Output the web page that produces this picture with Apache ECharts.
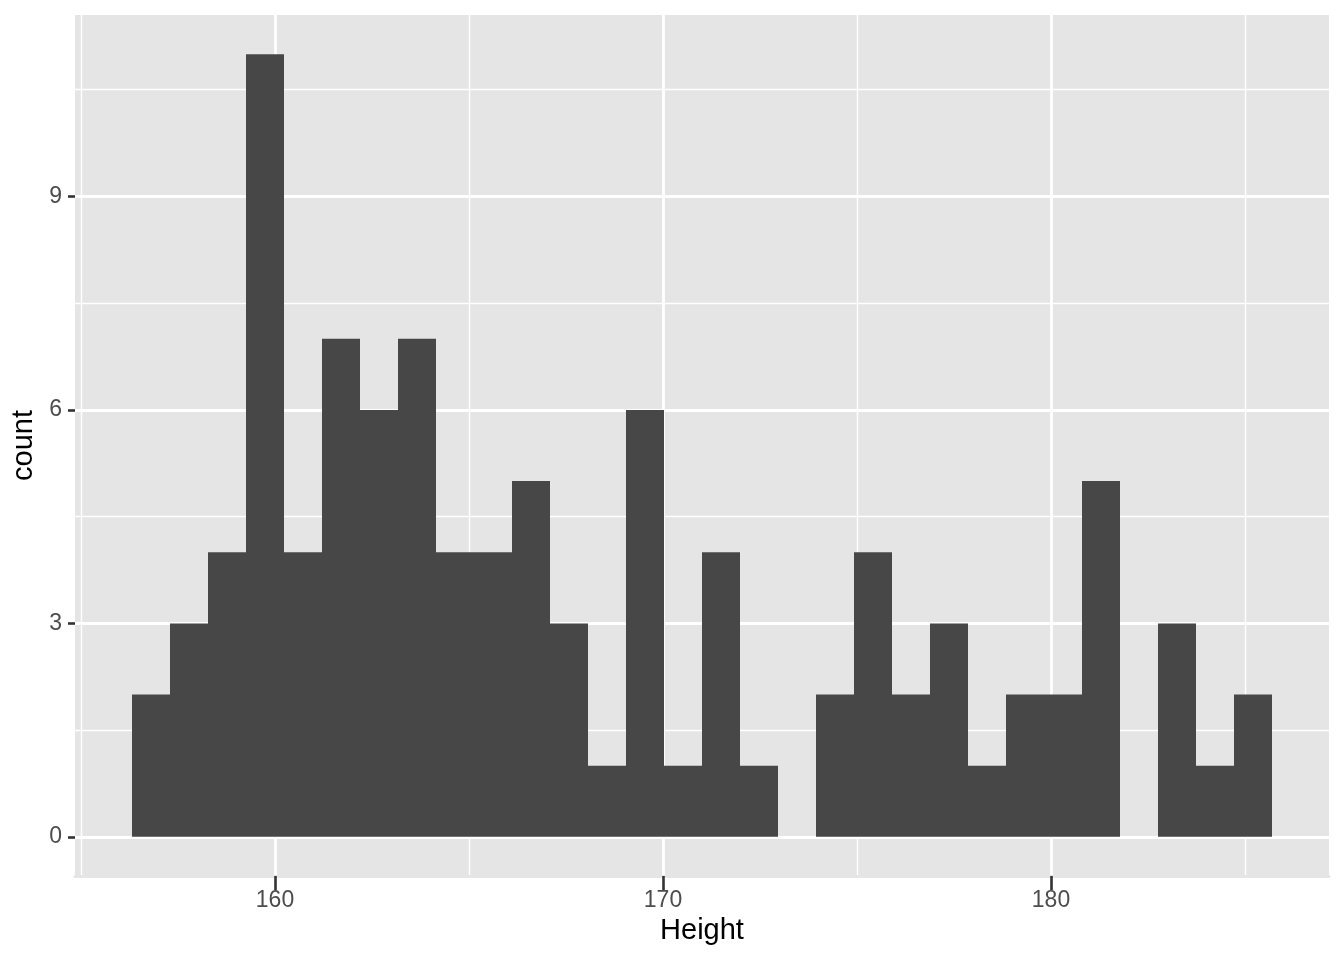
<!DOCTYPE html>
<html>
<head>
<meta charset="utf-8">
<script src="https://cdn.jsdelivr.net/npm/echarts@6/dist/echarts.min.js"></script>
<style>
  html, body { margin: 0; padding: 0; background: #ffffff; }
  #chart { width: 1344px; height: 960px; }
</style>
</head>
<body>
<div id="chart"></div>
<script>
// Histogram of Height (30 bins)
const binStart = 156.314;
const binWidth = 0.9794;
const counts = [2, 3, 4, 11, 4, 7, 6, 7, 4, 4, 5, 3, 1, 6, 1, 4, 1, 0, 2, 4, 2, 3, 1, 2, 2, 5, 0, 3, 1, 2];
const xMajorTicks = [160, 170, 180];
const xMinorTicks = [155, 165, 175, 185];
const yMajorTicks = [0, 3, 6, 9];
const yMinorTicks = [1.5, 4.5, 7.5, 10.5];
const xRange = [154.845, 187.165];
const yRange = [-0.55, 11.55];

const bins = counts.map((c, i) => [binStart + i * binWidth, binStart + (i + 1) * binWidth, c]);

const FONT = "'Liberation Sans', Arial, Helvetica, sans-serif";
const chart = echarts.init(document.getElementById('chart'), null, { renderer: 'canvas' });

chart.setOption({
  animation: false,
  backgroundColor: '#ffffff',
  grid: { left: 75, right: 15, top: 15, bottom: 84, show: true, backgroundColor: '#E5E5E5', borderWidth: 0 },
  xAxis: [
    {
      type: 'value', min: xRange[0], max: xRange[1], position: 'bottom',
      name: 'Height', nameLocation: 'middle', nameGap: 38,
      nameTextStyle: { color: '#000000', fontSize: 29, fontFamily: FONT },
      axisLine: { show: true, onZero: false, lineStyle: { color: '#E5E5E5', width: 3 } },
      axisLabel: { customValues: xMajorTicks, color: '#4D4D4D', fontSize: 23, fontFamily: FONT, margin: 13 },
      axisTick: { show: true, inside: false, customValues: xMajorTicks, length: 14, lineStyle: { color: '#333333', width: 2.6 } },
      splitLine: { show: true, lineStyle: { color: '#ffffff', width: 2.8 } }
    },
    {
      type: 'value', min: xRange[0], max: xRange[1], position: 'top',
      axisLine: { show: false, onZero: false },
      axisLabel: { show: false },
      axisTick: { show: false, customValues: xMinorTicks },
      splitLine: { show: true, lineStyle: { color: '#ffffff', width: 1.4 } }
    }
  ],
  yAxis: [
    {
      type: 'value', min: yRange[0], max: yRange[1], position: 'left',
      name: 'count', nameLocation: 'middle', nameGap: 36, nameRotate: 90,
      nameTextStyle: { color: '#000000', fontSize: 29, fontFamily: FONT },
      axisLine: { show: false, onZero: false },
      axisLabel: { customValues: yMajorTicks, color: '#4D4D4D', fontSize: 23, fontFamily: FONT, margin: 13 },
      axisTick: { show: true, customValues: yMajorTicks, length: 7, lineStyle: { color: '#333333', width: 2.6 } },
      splitLine: { show: true, lineStyle: { color: '#ffffff', width: 2.8 } }
    },
    {
      type: 'value', min: yRange[0], max: yRange[1], position: 'right',
      axisLine: { show: false, onZero: false },
      axisLabel: { show: false },
      axisTick: { show: false, customValues: yMinorTicks },
      splitLine: { show: true, lineStyle: { color: '#ffffff', width: 1.4 } }
    }
  ],
  series: [{
    type: 'custom', xAxisIndex: 0, yAxisIndex: 0, clip: true,
    data: bins, encode: { x: [0, 1], y: 2 },
    renderItem: function (params, api) {
      const p0 = api.coord([api.value(0), api.value(2)]);
      const p1 = api.coord([api.value(1), 0]);
      return { type: 'rect', shape: { x: p0[0], y: p0[1], width: p1[0] - p0[0], height: p1[1] - p0[1] }, style: { fill: '#474747' } };
    }
  }]
});
</script>
</body>
</html>
